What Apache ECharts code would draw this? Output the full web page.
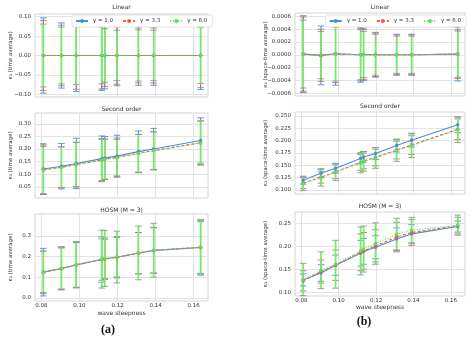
<!DOCTYPE html>
<html><head><meta charset="utf-8">
<script src="https://cdn.jsdelivr.net/npm/echarts@6/dist/echarts.min.js"></script>
<style>html,body{margin:0;padding:0;background:#fff}#c{width:474px;height:341px}</style>
</head><body><div id="c"></div>
<script>
// ---- data ----
const steepness = [0.081, 0.0905, 0.0983, 0.1117, 0.1133, 0.1197, 0.131, 0.139, 0.1637];
const gammaNames = ['γ = 1.0', 'γ = 3.3', 'γ = 6.0'];
const steepTicks = [0.08, 0.10, 0.12, 0.14, 0.16];

// Linear, time average
const linTimeMean10 = [0, 0, 0, 0, 0, 0, 0, 0, 0];
const linTimeMean33 = [0, 0, 0, 0, 0, 0, 0, 0, 0];
const linTimeMean60 = [0, 0, 0, 0, 0, 0, 0, 0, 0];
const linTimeErr10 = [0.097, 0.084, 0.093, 0.090, 0.086, 0.078, 0.077, 0.077, 0.088];
const linTimeErr33 = [0.090, 0.078, 0.087, 0.086, 0.080, 0.074, 0.071, 0.071, 0.083];
const linTimeErr60 = [0.081, 0.073, 0.075, 0.073, 0.069, 0.065, 0.066, 0.065, 0.072];
const linTimeTicks = [-0.10, -0.05, 0, 0.05, 0.10];

// Second order, time average
const secTimeMean10 = [0.121, 0.132, 0.143, 0.162, 0.165, 0.172, 0.190, 0.200, 0.234];
const secTimeMean33 = [0.118, 0.128, 0.139, 0.157, 0.160, 0.167, 0.183, 0.194, 0.225];
const secTimeMean60 = [0.117, 0.127, 0.138, 0.156, 0.159, 0.166, 0.182, 0.193, 0.224];
const secTimeErr10 = [0.100, 0.090, 0.100, 0.090, 0.085, 0.083, 0.082, 0.082, 0.090];
const secTimeErr33 = [0.098, 0.080, 0.088, 0.082, 0.080, 0.077, 0.075, 0.075, 0.086];
const secTimeErr60 = [0.093, 0.082, 0.088, 0.085, 0.080, 0.072, 0.076, 0.075, 0.088];
const secTimeTicks = [0.05, 0.10, 0.15, 0.20, 0.25, 0.30];

// HOSM, time average
const hosmTimeMean10 = [0.125, 0.143, 0.160, 0.186, 0.190, 0.197, 0.216, 0.230, 0.244];
const hosmTimeMean33 = [0.124, 0.142, 0.160, 0.186, 0.189, 0.197, 0.217, 0.230, 0.245];
const hosmTimeMean60 = [0.126, 0.144, 0.161, 0.188, 0.191, 0.198, 0.218, 0.231, 0.245];
const hosmTimeErr10 = [0.115, 0.100, 0.108, 0.110, 0.100, 0.095, 0.100, 0.110, 0.125];
const hosmTimeErr33 = [0.103, 0.100, 0.110, 0.100, 0.095, 0.100, 0.100, 0.110, 0.130];
const hosmTimeErr60 = [0.100, 0.105, 0.112, 0.140, 0.135, 0.125, 0.130, 0.130, 0.135];
const hosmTimeTicks = [0.0, 0.1, 0.2, 0.3];

// Linear, space-time average
const linSTMean10 = [0.00001, -0.00001, 0.000015, 0, 0.000005, 0, 0, 0, 0.00001];
const linSTMean33 = [0.00001, -0.00001, 0.000015, 0, 0.000005, 0, 0, 0, 0.00001];
const linSTMean60 = [0.00001, -0.000005, 0.00001, 0, 0.000005, 0, 0, 0, 0.00001];
const linSTErr10 = [0.00060, 0.00046, 0.00049, 0.00043, 0.00041, 0.00035, 0.00032, 0.00032, 0.00042];
const linSTErr33 = [0.00058, 0.00041, 0.00045, 0.00041, 0.00039, 0.00034, 0.00031, 0.00031, 0.00038];
const linSTErr60 = [0.00053, 0.00037, 0.00042, 0.00039, 0.00036, 0.00032, 0.00029, 0.00029, 0.00036];
const linSTTicks = [-0.0006, -0.0004, -0.0002, 0, 0.0002, 0.0004, 0.0006];

// Second order, space-time average
const secSTMean10 = [0.120, 0.134, 0.144, 0.164, 0.167, 0.174, 0.190, 0.201, 0.232];
const secSTMean33 = [0.114, 0.126, 0.137, 0.156, 0.159, 0.166, 0.181, 0.191, 0.223];
const secSTMean60 = [0.113, 0.125, 0.136, 0.155, 0.158, 0.165, 0.180, 0.190, 0.222];
const secSTErr10 = [0.008, 0.009, 0.010, 0.011, 0.011, 0.012, 0.013, 0.014, 0.016];
const secSTErr33 = [0.011, 0.012, 0.014, 0.016, 0.016, 0.017, 0.018, 0.019, 0.021];
const secSTErr60 = [0.014, 0.017, 0.017, 0.020, 0.020, 0.021, 0.022, 0.024, 0.026];
const secSTTicks = [0.100, 0.125, 0.150, 0.175, 0.200, 0.225, 0.250];

// HOSM, space-time average
const hosmSTMean10 = [0.127, 0.142, 0.159, 0.185, 0.189, 0.198, 0.216, 0.227, 0.243];
const hosmSTMean33 = [0.125, 0.145, 0.159, 0.187, 0.190, 0.201, 0.220, 0.230, 0.245];
const hosmSTMean60 = [0.128, 0.148, 0.161, 0.190, 0.194, 0.206, 0.226, 0.235, 0.246];
const hosmSTErr10 = [0.013, 0.018, 0.022, 0.028, 0.028, 0.025, 0.024, 0.020, 0.012];
const hosmSTErr33 = [0.022, 0.025, 0.033, 0.040, 0.040, 0.035, 0.032, 0.028, 0.018];
const hosmSTErr60 = [0.035, 0.040, 0.052, 0.052, 0.050, 0.045, 0.035, 0.028, 0.022];
const hosmSTTicks = [0.10, 0.15, 0.20, 0.25];

// ---- layout / style ----
const FONT = 'DejaVu Sans';
const TXT = '#333';
const colors = ['#4a8ee0', '#e8603c', '#5ee05e'];
const errColors = ['#4a8ee0', '#d86a55', '#72ec62'];
const capColors = ['#4a8ee0', '#b07a70', '#8c9c8c'];
const errWidths = [1, 1, 1.7];
const lineTypes = ['solid', [3, 2], [1, 1.6]];

const panels = [
  {grid: {left: 35, top: 14, width: 173, height: 83}, min: -0.107, max: 0.107, ticks: linTimeTicks, dec: 2,
   means: [linTimeMean10, linTimeMean33, linTimeMean60], errs: [linTimeErr10, linTimeErr33, linTimeErr60], showX: false},
  {grid: {left: 35, top: 113, width: 173, height: 85}, min: 0.006, max: 0.343, ticks: secTimeTicks, dec: 2,
   means: [secTimeMean10, secTimeMean33, secTimeMean60], errs: [secTimeErr10, secTimeErr33, secTimeErr60], showX: false},
  {grid: {left: 35, top: 214, width: 173, height: 87}, min: -0.0145, max: 0.406, ticks: hosmTimeTicks, dec: 1,
   means: [hosmTimeMean10, hosmTimeMean33, hosmTimeMean60], errs: [hosmTimeErr10, hosmTimeErr33, hosmTimeErr60], showX: true},
  {grid: {left: 295, top: 13, width: 170, height: 83}, min: -0.000645, max: 0.000653, ticks: linSTTicks, dec: 4,
   means: [linSTMean10, linSTMean33, linSTMean60], errs: [linSTErr10, linSTErr33, linSTErr60], showX: false},
  {grid: {left: 295, top: 112, width: 170, height: 82}, min: 0.092, max: 0.258, ticks: secSTTicks, dec: 3,
   means: [secSTMean10, secSTMean33, secSTMean60], errs: [secSTErr10, secSTErr33, secSTErr60], showX: false},
  {grid: {left: 295, top: 212, width: 170, height: 84}, min: 0.092, max: 0.2746, ticks: hosmSTTicks, dec: 2,
   means: [hosmSTMean10, hosmSTMean33, hosmSTMean60], errs: [hosmSTErr10, hosmSTErr33, hosmSTErr60], showX: true}
];

function fmt(v, dec) {
  const s = Math.abs(v).toFixed(dec);
  return (v < -1e-12 ? '\u2212' : '') + s;
}

function errRender(color, capColor, width) {
  return function (params, api) {
    const x = api.value(0), lo = api.value(1), hi = api.value(2);
    const a = api.coord([x, hi]), b = api.coord([x, lo]);
    const cw = 3.3;
    const cs = {stroke: capColor, lineWidth: 0.9};
    return {type: 'group', children: [
      {type: 'line', shape: {x1: a[0], y1: a[1], x2: b[0], y2: b[1]}, style: {stroke: color, lineWidth: width}},
      {type: 'line', shape: {x1: a[0] - cw, y1: a[1], x2: a[0] + cw, y2: a[1]}, style: cs},
      {type: 'line', shape: {x1: b[0] - cw, y1: b[1], x2: b[0] + cw, y2: b[1]}, style: cs}
    ]};
  };
}

const grids = [], xAxes = [], yAxes = [], lineSeries = [], errSeries = [];
panels.forEach((p, i) => {
  grids.push(Object.assign({show: true, borderColor: '#d4d4d4', borderWidth: 1, backgroundColor: '#fff', containLabel: false}, p.grid));
  xAxes.push({
    type: 'value', gridIndex: i, min: 0.0766, max: 0.1676,
    axisLine: {show: false},
    axisTick: {show: false, customValues: steepTicks},
    splitLine: {show: true, lineStyle: {color: '#e3e3e3', width: 1}},
    axisLabel: {show: p.showX, customValues: steepTicks, margin: 2, fontSize: 5.5, fontFamily: FONT, color: TXT,
      formatter: v => fmt(v, 2)}
  });
  yAxes.push({
    type: 'value', gridIndex: i, min: p.min, max: p.max,
    axisLine: {show: false},
    axisTick: {show: false, customValues: p.ticks},
    splitLine: {show: true, lineStyle: {color: '#e3e3e3', width: 1}},
    axisLabel: {customValues: p.ticks, margin: 4, fontSize: 5.5, fontFamily: FONT, color: TXT,
      formatter: v => fmt(v, p.dec)}
  });
  for (let s = 0; s < 3; s++) {
    errSeries.push({
      type: 'custom', name: gammaNames[s] + ' err', xAxisIndex: i, yAxisIndex: i, z: 1 + s * 0.1,
      renderItem: errRender(errColors[s], capColors[s], errWidths[s]),
      encode: {x: 0, y: [1, 2]},
      data: steepness.map((x, k) => [x, p.means[s][k] - p.errs[s][k], p.means[s][k] + p.errs[s][k]]),
      silent: true, animation: false
    });
    lineSeries.push({
      type: 'line', name: gammaNames[s], xAxisIndex: i, yAxisIndex: i, z: 3,
      data: steepness.map((x, k) => [x, p.means[s][k]]),
      symbol: 'circle', symbolSize: 3.5, showSymbol: true,
      itemStyle: {color: colors[s]},
      lineStyle: {color: colors[s], width: 1.1, type: lineTypes[s]},
      animation: false
    });
  }
});

const legendBase = {
  top: 15, orient: 'horizontal', data: gammaNames, itemWidth: 12, itemHeight: 5, itemGap: 9,
  padding: [3, 5, 3, 3], backgroundColor: '#fff', borderColor: '#dddddd', borderWidth: 0.8, borderRadius: 2,
  textStyle: {fontSize: 5.5, fontFamily: FONT, color: TXT}, z: 10
};

function txt(t, x, y) {
  return {type: 'text', x: x, y: y, z: 20, silent: true,
    style: {text: t, fontSize: 6, fontFamily: FONT, fill: TXT, align: 'center', verticalAlign: 'middle'}};
}
function vtxt(t, x, y) {
  return {type: 'text', x: x, y: y, rotation: Math.PI / 2, z: 20, silent: true,
    style: {text: t, fontSize: 5.5, fontFamily: FONT, fill: TXT, align: 'center', verticalAlign: 'middle'}};
}

const graphics = [
  txt('Linear', 121.5, 7), txt('Second order', 121.5, 109), txt('HOSM (M = 3)', 121.5, 210.5),
  txt('Linear', 380, 7), txt('Second order', 380, 106.5), txt('HOSM (M = 3)', 380, 206),
  vtxt('κ₃ (time average)', 11, 55.5), vtxt('κ₃ (time average)', 11, 155.5), vtxt('κ₃ (time average)', 11, 257.5),
  vtxt('κ₃ (space-time average)', 266, 54.5), vtxt('κ₃ (space-time average)', 266, 153), vtxt('κ₃ (space-time average)', 266, 254),
  txt('wave steepness', 121.5, 313), txt('wave steepness', 380, 307.5),
  {type: 'text', x: 108, y: 330, z: 20, style: {text: '(a)', fontSize: 12, fontWeight: 'bold', fontFamily: 'Liberation Serif', fill: '#111', align: 'center', verticalAlign: 'middle'}},
  {type: 'text', x: 364, y: 322, z: 20, style: {text: '(b)', fontSize: 12, fontWeight: 'bold', fontFamily: 'Liberation Serif', fill: '#111', align: 'center', verticalAlign: 'middle'}}
];

const chart = echarts.init(document.getElementById('c'), null, {renderer: 'canvas'});
chart.setOption({
  animation: false,
  backgroundColor: '#fff',
  grid: grids, xAxis: xAxes, yAxis: yAxes,
  legend: [Object.assign({left: 72}, legendBase), Object.assign({right: 8}, legendBase)],
  series: lineSeries.concat(errSeries),
  graphic: graphics
});
</script></body></html>
